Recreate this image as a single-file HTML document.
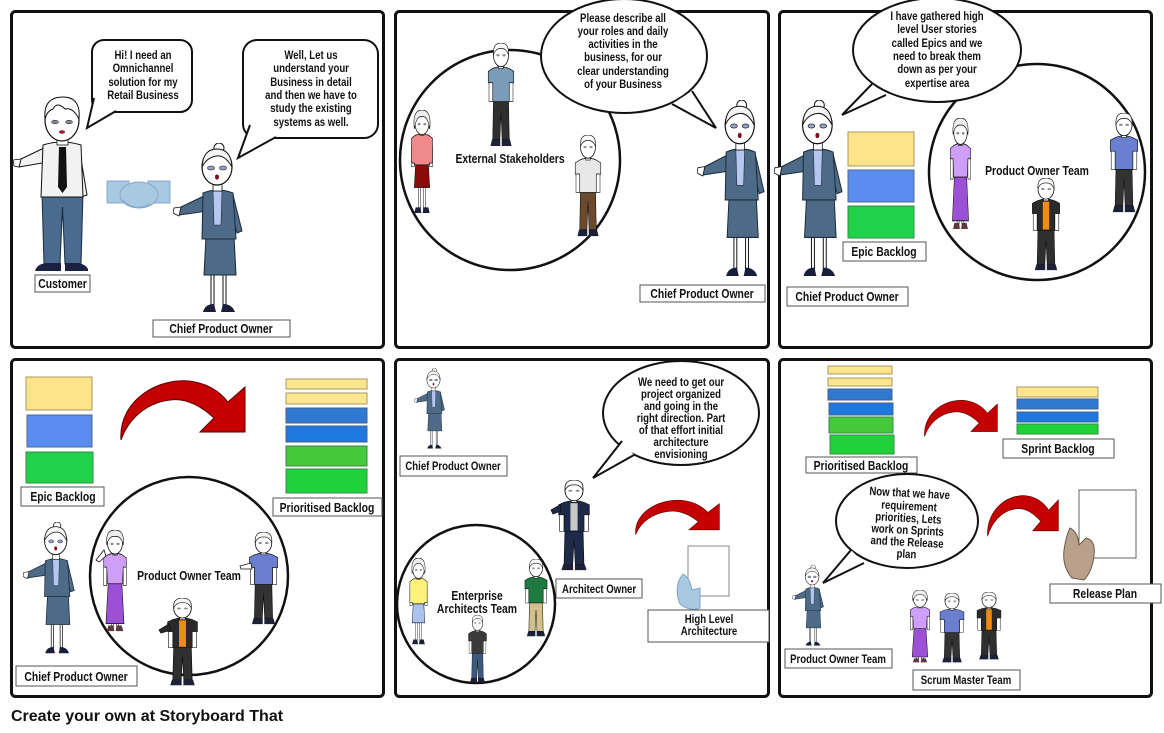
<!DOCTYPE html>
<html><head><meta charset="utf-8">
<style>
html,body{margin:0;padding:0;background:#fff;}
svg{display:block;}
.t{font-family:"Liberation Sans",sans-serif;font-weight:bold;font-size:12px;text-anchor:middle;fill:#111;transform-box:fill-box;transform-origin:center;transform:scaleX(0.8);}
.l{font-family:"Liberation Sans",sans-serif;font-weight:bold;font-size:13px;text-anchor:middle;fill:#111;transform-box:fill-box;transform-origin:center;transform:scaleX(0.8);}
.box{fill:#fff;stroke:#555;stroke-width:1;}
.pan{fill:#fff;stroke:#111;stroke-width:3;}
.bub{fill:#fff;stroke:#111;stroke-width:2;}
.cir{fill:none;stroke:#111;stroke-width:2.5;}
</style></head>
<body>
<svg width="1164" height="733" viewBox="0 0 1164 733" xmlns="http://www.w3.org/2000/svg">
<defs>
<symbol id="chief" viewBox="0 0 70 170" preserveAspectRatio="none">
 <rect x="38" y="128" width="3" height="35" fill="#fff" stroke="#111" stroke-width="1"/>
 <rect x="50" y="128" width="3" height="35" fill="#fff" stroke="#111" stroke-width="1"/>
 <path d="M30,169 Q32,161 41,161 L43,169 Z" fill="#1a1d3a"/>
 <path d="M48,169 L50,161 Q59,161 62,169 Z" fill="#1a1d3a"/>
 <path d="M33,93 L61,93 L63,132 L31,132 Z" fill="#4d6a87" stroke="#1c2a3a" stroke-width="1"/>
 <path d="M33,52 L8,64 L6,72 L35,68 Z" fill="#4d6a87" stroke="#1c2a3a" stroke-width="1"/>
 <path d="M8,64 L1,65 L0,70 L6,73 Z" fill="#fff" stroke="#111" stroke-width=".8"/>
 <path d="M60,52 L69,88 L64,90 L57,64 Z" fill="#4d6a87" stroke="#1c2a3a" stroke-width="1"/>
 <path d="M30,50 Q45,44 60,50 L63,96 L29,96 Z" fill="#4d6a87" stroke="#1c2a3a" stroke-width="1"/>
 <path d="M40,48 L49,48 L48,82 L41,82 Z" fill="#b6c6ee" stroke="#1c2a3a" stroke-width=".6"/>
 <rect x="40" y="38" width="9" height="10" fill="#fff" stroke="#111" stroke-width=".8"/>
 <ellipse cx="44" cy="24" rx="15" ry="18" fill="#fff" stroke="#111" stroke-width="1.2"/>
 <circle cx="46" cy="5" r="5" fill="#fff" stroke="#111" stroke-width="1"/>
 <path d="M29,24 Q30,6 44,6 Q58,6 59,24 Q52,12 44,13 Q34,14 29,24 Z" fill="#f4f4f4" stroke="#111" stroke-width="1"/>
 <ellipse cx="38" cy="25" rx="3.5" ry="2" fill="#9aa0c8" stroke="#111" stroke-width=".6"/>
 <ellipse cx="50" cy="25" rx="3.5" ry="2" fill="#9aa0c8" stroke="#111" stroke-width=".6"/>
 <ellipse cx="44" cy="34" rx="2" ry="2.6" fill="#7a1020"/>
</symbol>
<symbol id="cust" viewBox="0 0 75 177" preserveAspectRatio="none">
 <path d="M29,98 L70,98 L68,169 L52,169 L49.5,112 L47,169 L31,169 Z" fill="#4a6a8e" stroke="#1b2b3b" stroke-width="1"/>
 <path d="M22,176 Q24,168 36,168 L48,168 L48,176 Z" fill="#1c2140"/>
 <path d="M52,176 L52,168 L66,168 Q74,170 76,176 Z" fill="#1c2140"/>
 <path d="M33,52 L8,64 L6,72 L35,67 Z" fill="#f2f2f2" stroke="#111" stroke-width="1"/>
 <path d="M8,64 L0,65 L1,71 L6,72 Z" fill="#fff" stroke="#111" stroke-width=".8"/>
 <path d="M66,52 L74,100 L68,102 L62,62 Z" fill="#f2f2f2" stroke="#111" stroke-width="1"/>
 <path d="M30,50 Q49,44 68,50 L70,102 L28,102 Z" fill="#f2f2f2" stroke="#111" stroke-width="1"/>
 <path d="M46,52 L53,52 L54,92 L49.5,98 L45,92 Z" fill="#111"/>
 <rect x="44" y="40" width="11" height="10" fill="#fff" stroke="#111" stroke-width=".8"/>
 <ellipse cx="49" cy="25" rx="17" ry="21" fill="#fff" stroke="#111" stroke-width="1.2"/>
 <path d="M32,24 Q30,2 50,2 Q68,2 66,24 Q60,12 52,14 Q44,6 40,14 Q34,16 32,24 Z" fill="#fafafa" stroke="#111" stroke-width="1"/>
 <ellipse cx="42" cy="27" rx="3.5" ry="1.8" fill="#889" stroke="#111" stroke-width=".5"/>
 <ellipse cx="56" cy="27" rx="3.5" ry="1.8" fill="#889" stroke="#111" stroke-width=".5"/>
 <ellipse cx="49" cy="37" rx="3" ry="1.8" fill="#a0182a"/>
</symbol>
<symbol id="man" viewBox="0 0 40 110" preserveAspectRatio="none">
 <path d="M10,60 L30,60 L31,102 L21.5,102 L20,72 L18.5,102 L9,102 Z" style="fill:var(--p)" stroke="#111" stroke-width=".8"/>
 <path d="M6,109 L8,102 L19,102 L19,109 Z" fill="#1d2036"/>
 <path d="M21,109 L21,102 L32,102 L34,109 Z" fill="#1d2036"/>
 <rect x="4" y="38" width="5" height="24" fill="#fff" stroke="#111" stroke-width=".7"/>
 <rect x="31" y="38" width="5" height="24" fill="#fff" stroke="#111" stroke-width=".7"/>
 <path d="M9,27 Q20,23 31,27 L37,30 L37,42 L31,42 L31,62 L9,62 L9,42 L3,42 L3,30 Z" style="fill:var(--s)" stroke="#111" stroke-width=".8"/>
 <rect x="16" y="28" width="8" height="33" style="fill:var(--t,none)"/>
 <rect x="17" y="21" width="6" height="6" fill="#fff" stroke="#111" stroke-width=".7"/>
 <ellipse cx="20" cy="13" rx="10" ry="12" fill="#fff" stroke="#111" stroke-width="1"/>
 <path d="M10,12 Q9,0 20,0 Q31,0 30,12 Q26,5 20,6 Q14,5 10,12 Z" fill="#f8f8f8" stroke="#111" stroke-width=".8"/>
 <ellipse cx="16" cy="13" rx="2.2" ry="1.2" fill="#889"/>
 <ellipse cx="24" cy="13" rx="2.2" ry="1.2" fill="#889"/>
</symbol>
<symbol id="womL" viewBox="0 0 40 110" preserveAspectRatio="none">
 <rect x="15" y="60" width="3" height="44" fill="#fff" stroke="#111" stroke-width=".7"/>
 <rect x="22" y="60" width="3" height="44" fill="#fff" stroke="#111" stroke-width=".7"/>
 <path d="M9,109 L11,103 L18,103 L19,109 Z" fill="#5a3a40"/>
 <path d="M21,109 L22,103 L29,103 L31,109 Z" fill="#5a3a40"/>
 <path d="M11,56 L29,56 L32,101 L8,101 Z" style="fill:var(--k)" stroke="#111" stroke-width=".8"/>
 <rect x="5" y="38" width="4" height="22" fill="#fff" stroke="#111" stroke-width=".7"/>
 <rect x="31" y="38" width="4" height="22" fill="#fff" stroke="#111" stroke-width=".7"/>
 <path d="M10,27 Q20,23 30,27 L35,30 L35,40 L31,40 L30,58 L10,58 L9,40 L5,40 L5,30 Z" style="fill:var(--s)" stroke="#111" stroke-width=".8"/>
 <rect x="17" y="21" width="6" height="6" fill="#fff" stroke="#111" stroke-width=".7"/>
 <ellipse cx="20" cy="14" rx="10" ry="12" fill="#fff" stroke="#111" stroke-width="1"/>
 <path d="M9,16 Q7,0 20,0 Q33,0 31,16 Q28,6 20,7 Q12,6 9,16 Z" fill="#eee" stroke="#111" stroke-width=".8"/>
 <ellipse cx="16" cy="15" rx="2.2" ry="1.3" fill="#889"/>
 <ellipse cx="24" cy="15" rx="2.2" ry="1.3" fill="#889"/>
</symbol>
<symbol id="womS" viewBox="0 0 40 110" preserveAspectRatio="none">
 <rect x="15" y="60" width="3" height="44" fill="#fff" stroke="#111" stroke-width=".7"/>
 <rect x="22" y="60" width="3" height="44" fill="#fff" stroke="#111" stroke-width=".7"/>
 <path d="M9,109 L11,103 L18,103 L19,109 Z" fill="#1d2036"/>
 <path d="M21,109 L22,103 L29,103 L31,109 Z" fill="#1d2036"/>
 <path d="M11,56 L29,56 L31,82 L9,82 Z" style="fill:var(--k)" stroke="#111" stroke-width=".8"/>
 <rect x="5" y="38" width="4" height="22" fill="#fff" stroke="#111" stroke-width=".7"/>
 <rect x="31" y="38" width="4" height="22" fill="#fff" stroke="#111" stroke-width=".7"/>
 <path d="M10,27 Q20,23 30,27 L35,30 L35,56 L31,56 L30,58 L10,58 L9,56 L5,56 L5,30 Z" style="fill:var(--s)" stroke="#111" stroke-width=".8"/>
 <rect x="17" y="21" width="6" height="6" fill="#fff" stroke="#111" stroke-width=".7"/>
 <ellipse cx="20" cy="14" rx="10" ry="12" fill="#fff" stroke="#111" stroke-width="1"/>
 <path d="M9,20 Q6,0 20,0 Q34,0 31,20 Q28,6 20,7 Q12,6 9,20 Z" fill="#eee" stroke="#111" stroke-width=".8"/>
 <ellipse cx="16" cy="15" rx="2.2" ry="1.3" fill="#889"/>
 <ellipse cx="24" cy="15" rx="2.2" ry="1.3" fill="#889"/>
</symbol>
<symbol id="arr" viewBox="0 0 126 64" preserveAspectRatio="none">
 <path d="M1,63 C-2,23 40,-2 75,5 C90,8 100,15 108,25 L125,10 L125,55 L80,55 L94,41 C80,28 65,21 50,23 C25,26 8,43 1,63 Z" fill="#c40000" stroke="#5a0000" stroke-width="1"/>
</symbol>
</defs>

<!-- Panels -->
<rect class="pan" x="11.5" y="11.5" width="372" height="336" rx="4"/>
<rect class="pan" x="395.5" y="11.5" width="373" height="336" rx="4"/>
<rect class="pan" x="779.5" y="11.5" width="372" height="336" rx="4"/>
<rect class="pan" x="11.5" y="359.5" width="372" height="337" rx="4"/>
<rect class="pan" x="395.5" y="359.5" width="373" height="337" rx="4"/>
<rect class="pan" x="779.5" y="359.5" width="372" height="337" rx="4"/>

<!-- ===== Panel 1 ===== -->
<rect class="bub" x="92" y="40" width="100" height="72" rx="12"/>
<path class="bub" d="M94,98 L87,128 L116,111"/>
<text class="t" x="143" y="59">Hi! I need an</text>
<text class="t" x="143" y="72">Omnichannel</text>
<text class="t" x="143" y="86">solution for my</text>
<text class="t" x="143" y="99">Retail Business</text>

<rect class="bub" x="243" y="40" width="135" height="98" rx="14"/>
<path class="bub" d="M250,125 L238,158 L276,137"/>
<text class="t" x="311" y="59">Well, Let us</text>
<text class="t" x="311" y="72">understand your</text>
<text class="t" x="311" y="86">Business in detail</text>
<text class="t" x="311" y="99">and then we have to</text>
<text class="t" x="311" y="112">study the existing</text>
<text class="t" x="311" y="126">systems as well.</text>

<use href="#cust" x="13" y="95" width="75" height="177"/>
<g fill="#a9c8e2" stroke="#86a9c8" stroke-width="1">
 <rect x="107" y="181" width="22" height="22"/>
 <rect x="148" y="181" width="22" height="22"/>
 <ellipse cx="139" cy="195" rx="19" ry="13"/>
 <path d="M122,200 Q135,212 150,204" fill="none"/>
</g>
<use href="#chief" x="173" y="143" width="70" height="170"/>
<rect class="box" x="35" y="275" width="55" height="17"/>
<text class="l" x="62.5" y="288">Customer</text>
<rect class="box" x="153" y="320" width="137" height="17"/>
<text class="l" x="221" y="333">Chief Product Owner</text>

<!-- ===== Panel 2 ===== -->
<circle class="cir" cx="510" cy="160" r="110"/>
<use href="#man" x="486" y="43" width="30" height="104" style="--s:#7b9cb8;--p:#2f2f2f"/>
<use href="#womS" x="408" y="110" width="28" height="104" style="--s:#f08a8a;--k:#8b0a0a"/>
<use href="#man" x="573" y="135" width="30" height="102" style="--s:#e8e8e8;--p:#6b4a2e"/>
<text class="l" x="510" y="163">External Stakeholders</text>
<ellipse class="bub" cx="624" cy="56" rx="83" ry="57"/>
<path class="bub" d="M672,104 L716,128 L692,91"/>
<text class="t" x="623" y="22">Please describe all</text>
<text class="t" x="623" y="35">your roles and daily</text>
<text class="t" x="623" y="48">activities in the</text>
<text class="t" x="623" y="61">business, for our</text>
<text class="t" x="623" y="75">clear understanding</text>
<text class="t" x="623" y="88">of your Business</text>
<use href="#chief" x="697" y="100" width="68" height="177"/>
<rect class="box" x="640" y="285" width="125" height="17"/>
<text class="l" x="702" y="298">Chief Product Owner</text>

<!-- ===== Panel 3 ===== -->
<circle class="cir" cx="1037" cy="172" r="108"/>
<ellipse class="bub" cx="937" cy="50" rx="84" ry="52"/>
<path class="bub" d="M872,84 L842,115 L886,95"/>
<text class="t" x="937" y="20">I have gathered high</text>
<text class="t" x="937" y="33">level User stories</text>
<text class="t" x="937" y="47">called Epics and we</text>
<text class="t" x="937" y="60">need to break them</text>
<text class="t" x="937" y="73">down as per your</text>
<text class="t" x="937" y="87">expertise area</text>
<use href="#chief" x="774" y="100" width="69" height="177"/>
<rect x="848" y="132" width="66" height="34" fill="#fde38a" stroke="#a89a60"/>
<rect x="848" y="170" width="66" height="32" fill="#5b8cef" stroke="#50688a"/>
<rect x="848" y="206" width="66" height="32" fill="#1fd24a" stroke="#3a8a4a"/>
<rect class="box" x="843" y="242" width="83" height="19"/>
<text class="l" x="884" y="256">Epic Backlog</text>
<rect class="box" x="787" y="287" width="121" height="19"/>
<text class="l" x="847" y="301">Chief Product Owner</text>
<use href="#womL" x="947" y="118" width="27" height="112" style="--s:#cf9ff7;--k:#9b50d6"/>
<use href="#man" x="1030" y="178" width="32" height="93" style="--s:#2a2a2a;--p:#2f2f2f;--t:#f08a10"/>
<use href="#man" x="1108" y="113" width="32" height="100" style="--s:#6a7fd0;--p:#333"/>
<text class="l" x="1037" y="175">Product Owner Team</text>

<!-- ===== Panel 4 ===== -->
<rect x="26" y="377" width="66" height="33" fill="#fde38a" stroke="#a89a60"/>
<rect x="27" y="415" width="65" height="32" fill="#5b8cef" stroke="#50688a"/>
<rect x="26" y="452" width="67" height="31" fill="#1fd24a" stroke="#3a8a4a"/>
<rect class="box" x="21" y="487" width="83" height="19"/>
<text class="l" x="63" y="501">Epic Backlog</text>
<use href="#arr" x="120" y="377" width="126" height="64"/>
<rect x="286" y="379" width="81" height="10" fill="#fde68e" stroke="#a89a60"/>
<rect x="286" y="393" width="81" height="11" fill="#fde68e" stroke="#a89a60"/>
<rect x="286" y="408" width="81" height="15" fill="#2f7ad0" stroke="#44608a"/>
<rect x="286" y="426" width="81" height="16" fill="#1e78dd" stroke="#44608a"/>
<rect x="286" y="446" width="81" height="20" fill="#45c83a" stroke="#3a8a4a"/>
<rect x="286" y="469" width="81" height="24" fill="#1fd23a" stroke="#3a8a4a"/>
<rect class="box" x="273" y="498" width="109" height="18"/>
<text class="l" x="327" y="512">Prioritised Backlog</text>
<circle class="cir" cx="189" cy="576" r="99"/>
<use href="#chief" x="23" y="522" width="52" height="132"/>
<rect class="box" x="16" y="666" width="121" height="20"/>
<text class="l" x="76" y="681">Chief Product Owner</text>
<use href="#womL" x="100" y="530" width="30" height="102" style="--s:#cf9ff7;--k:#9b50d6"/>
<path d="M104,550 L96,560 L99,562 L106,556 Z" fill="#fff" stroke="#111" stroke-width=".8"/>
<use href="#man" x="165" y="598" width="35" height="88" style="--s:#2a2a2a;--p:#2f2f2f;--t:#f08a10"/>
<path d="M169,624 L159,630 L161,633 L171,630 Z" fill="#2a2a2a" stroke="#111" stroke-width=".8"/>
<use href="#man" x="247" y="532" width="33" height="93" style="--s:#6a7fd0;--p:#333"/>
<path d="M251,563 L240,566 L241,569 L252,569 Z" fill="#fff" stroke="#111" stroke-width=".8"/>
<text class="l" x="189" y="580">Product Owner Team</text>

<!-- ===== Panel 5 ===== -->
<use href="#chief" x="414" y="368" width="31" height="81"/>
<rect class="box" x="400" y="456" width="107" height="20"/>
<text class="t" x="453" y="470">Chief Product Owner</text>
<ellipse class="bub" cx="681" cy="413" rx="78" ry="52"/>
<path class="bub" d="M622,441 L593,478 L634,455"/>
<text class="t" x="681" y="386">We need to get our</text>
<text class="t" x="681" y="398">project organized</text>
<text class="t" x="681" y="410">and going in the</text>
<text class="t" x="681" y="422">right direction. Part</text>
<text class="t" x="681" y="434">of that effort initial</text>
<text class="t" x="681" y="446">architecture</text>
<text class="t" x="681" y="458">envisioning</text>
<use href="#man" x="556" y="480" width="36" height="91" style="--s:#1e2a4a;--p:#1e2a4a;--t:#c8c8c8"/>
<path d="M560,505 L551,510 L553,514 L561,511 Z" fill="#1e2a4a" stroke="#111" stroke-width=".8"/>
<rect class="box" x="556" y="579" width="86" height="19"/>
<text class="t" x="599" y="593">Architect Owner</text>
<use href="#arr" x="635" y="498" width="85" height="37"/>
<rect x="688" y="546" width="41" height="50" fill="#fff" stroke="#888"/>
<path d="M683,574 Q690,578 692,590 L700,588 L700,608 Q690,612 680,604 Q675,592 679,580 Z" fill="#a9c8e2" stroke="#7fa3c4"/>
<rect class="box" x="648" y="610" width="121" height="32"/>
<text class="t" x="709" y="623">High Level</text>
<text class="t" x="709" y="635">Architecture</text>
<circle class="cir" cx="476" cy="604" r="79"/>
<use href="#womS" x="407" y="558" width="23" height="87" style="--s:#fff27a;--k:#a9c4ee"/>
<use href="#man" x="523" y="559" width="26" height="78" style="--s:#1e7a3e;--p:#d4c08a"/>
<use href="#man" x="467" y="615" width="21" height="68" style="--s:#3a3a3a;--p:#3a5a80"/>
<text class="l" x="477" y="600">Enterprise</text>
<text class="l" x="477" y="613">Architects Team</text>

<!-- ===== Panel 6 ===== -->
<rect x="828" y="366" width="64" height="8" fill="#fde68e" stroke="#a89a60"/>
<rect x="828" y="378" width="64" height="8" fill="#fde68e" stroke="#a89a60"/>
<rect x="828" y="389" width="64" height="11" fill="#2f7ad0" stroke="#44608a"/>
<rect x="829" y="403" width="64" height="12" fill="#1e78dd" stroke="#44608a"/>
<rect x="829" y="417" width="64" height="16" fill="#45c83a" stroke="#3a8a4a"/>
<rect x="830" y="435" width="64" height="19" fill="#1fd23a" stroke="#3a8a4a"/>
<rect class="box" x="806" y="457" width="111" height="16"/>
<text class="l" x="861" y="470">Prioritised Backlog</text>
<use href="#arr" x="924" y="398" width="74" height="39"/>
<rect x="1017" y="387" width="81" height="10" fill="#fde68e" stroke="#a89a60"/>
<rect x="1017" y="399" width="81" height="10" fill="#2f7ad0" stroke="#44608a"/>
<rect x="1017" y="412" width="81" height="10" fill="#1e78dd" stroke="#44608a"/>
<rect x="1017" y="424" width="81" height="10" fill="#1fd23a" stroke="#3a8a4a"/>
<rect class="box" x="1003" y="439" width="111" height="19"/>
<text class="l" x="1058" y="453">Sprint Backlog</text>
<ellipse class="bub" cx="907" cy="521" rx="71" ry="47"/>
<path class="bub" d="M851,550 L823,583 L864,563"/>
<g transform="rotate(3 908 525)">
<text class="t" x="908" y="497">Now that we have</text>
<text class="t" x="908" y="510">requirement</text>
<text class="t" x="908" y="522">priorities, Lets</text>
<text class="t" x="908" y="534">work on Sprints</text>
<text class="t" x="908" y="546">and the Release</text>
<text class="t" x="908" y="558">plan</text>
</g>
<use href="#arr" x="987" y="493" width="72" height="44"/>
<rect x="1079" y="490" width="57" height="68" fill="#fff" stroke="#666"/>
<path d="M1070,528 Q1078,532 1079,545 L1086,538 Q1096,540 1094,556 Q1092,572 1084,580 L1072,578 Q1062,566 1064,550 Q1066,536 1070,528 Z" fill="#b8a08a" stroke="#6d5a48"/>
<rect class="box" x="1050" y="584" width="111" height="19"/>
<text class="l" x="1105" y="598">Release Plan</text>
<use href="#chief" x="792" y="565" width="32" height="81"/>
<rect class="box" x="785" y="649" width="107" height="19"/>
<text class="t" x="838" y="663">Product Owner Team</text>
<use href="#womL" x="907" y="590" width="26" height="73" style="--s:#cf9ff7;--k:#9b50d6"/>
<use href="#man" x="938" y="593" width="28" height="70" style="--s:#6a7fd0;--p:#333"/>
<use href="#man" x="975" y="592" width="28" height="68" style="--s:#2a2a2a;--p:#2f2f2f;--t:#f08a10"/>
<rect class="box" x="913" y="670" width="107" height="20"/>
<text class="t" x="966" y="684">Scrum Master Team</text>

<!-- footer -->
<text x="11" y="721" style="font-family:'Liberation Sans',sans-serif;font-weight:bold;font-size:16px;fill:#111">Create your own at Storyboard That</text>
</svg>
</body></html>
